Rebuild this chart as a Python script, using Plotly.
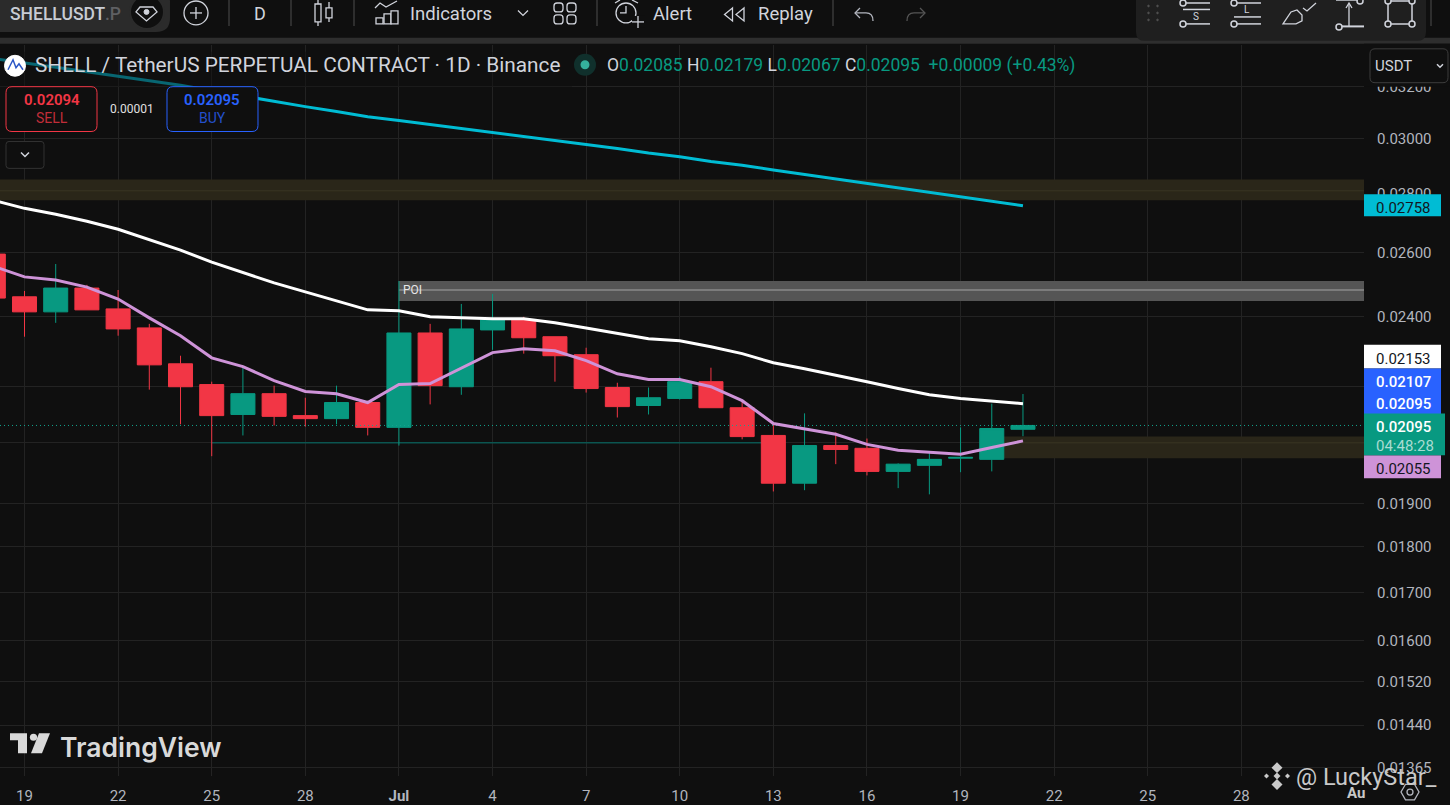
import math
import pandas as pd
import plotly.graph_objects as go

W, H = 1450, 805
BG = "#0f0f0f"
GRID = "#232323"
FONT = "Roboto"
UP = "#089981"
DOWN = "#F23645"
TXT = "#d1d4dc"

# daily candles, Jun 18 -> Jul 21
dates = pd.date_range("2025-06-18", periods=34, freq="D")
open_ = [0.02596, 0.02461, 0.02415, 0.02488, 0.02424, 0.02367, 0.02263, 0.02205, 0.02124, 0.02180, 0.02121, 0.02113,
         0.02156, 0.02090, 0.02352, 0.02199, 0.02361, 0.02391, 0.02341, 0.02289, 0.02197, 0.02148, 0.02167, 0.02213,
         0.02142, 0.02069, 0.01949, 0.02043, 0.02036, 0.01978, 0.01993, 0.02011, 0.02008, 0.02085]
high = [0.02596, 0.02479, 0.02564, 0.02498, 0.02482, 0.02379, 0.02286, 0.02213, 0.02255, 0.02202, 0.02169, 0.02202,
        0.02161, 0.02510, 0.02379, 0.02439, 0.02470, 0.02400, 0.02341, 0.02309, 0.02210, 0.02197, 0.02227, 0.02252,
        0.02161, 0.02100, 0.02127, 0.02077, 0.02061, 0.01998, 0.02028, 0.02090, 0.02153, 0.02179]
low = [0.02457, 0.02341, 0.02382, 0.02421, 0.02344, 0.02191, 0.02098, 0.02016, 0.02069, 0.02095, 0.02092, 0.02098,
       0.02069, 0.02043, 0.02151, 0.02177, 0.02303, 0.02292, 0.02213, 0.02183, 0.02116, 0.02124, 0.02164, 0.02142,
       0.02059, 0.01929, 0.01932, 0.01996, 0.01968, 0.01937, 0.01922, 0.01976, 0.01978, 0.02067]
close = [0.02457, 0.02415, 0.02488, 0.02421, 0.02364, 0.02260, 0.02199, 0.02121, 0.02180, 0.02119, 0.02113, 0.02156,
         0.02090, 0.02352, 0.02202, 0.02364, 0.02391, 0.02338, 0.02286, 0.02194, 0.02145, 0.02169, 0.02213, 0.02142,
         0.02066, 0.01949, 0.02043, 0.02033, 0.01978, 0.01996, 0.02008, 0.02013, 0.02087, 0.02095]

ma_white = [0.02777, 0.02749, 0.02729, 0.02705, 0.02678, 0.02642, 0.02609, 0.02570, 0.02538, 0.02504, 0.02476, 0.02448,
            0.02421, 0.02418, 0.02400, 0.02397, 0.02394, 0.02394, 0.02382, 0.02367, 0.02350, 0.02335, 0.02329, 0.02312,
            0.02292, 0.02266, 0.02249, 0.02232, 0.02213, 0.02194, 0.02177, 0.02167, 0.02159, 0.02153]
ma_purple = [0.02557, 0.02523, 0.02513, 0.02491, 0.02454, 0.02397, 0.02344, 0.02280, 0.02255, 0.02216, 0.02186, 0.02180,
             0.02156, 0.02205, 0.02208, 0.02252, 0.02295, 0.02306, 0.02300, 0.02272, 0.02235, 0.02219, 0.02219, 0.02199,
             0.02161, 0.02100, 0.02085, 0.02072, 0.02046, 0.02031, 0.02026, 0.02021, 0.02038, 0.02055]
ma_cyan = [0.03315, 0.03298, 0.03280, 0.03261, 0.03243, 0.03225, 0.03207, 0.03185, 0.03163, 0.03142, 0.03122, 0.03103,
           0.03083, 0.03068, 0.03053, 0.03038, 0.03023, 0.03008, 0.02993, 0.02978, 0.02963, 0.02946, 0.02932, 0.02915,
           0.02901, 0.02884, 0.02868, 0.02852, 0.02836, 0.02820, 0.02805, 0.02787, 0.02773, 0.02758]

last_price = 0.02095
price_ticks = [0.032, 0.03, 0.028, 0.026, 0.024, 0.022, 0.0205, 0.019, 0.018, 0.017, 0.016, 0.0152, 0.0144, 0.01365]
price_labels = ["0.03200", "0.03000", "0.02800", "0.02600", "0.02400", "", "", "0.01900", "0.01800", "0.01700",
                "0.01600", "0.01520", "0.01440", "0.01365"]
date_ticks = ["2025-06-19", "2025-06-22", "2025-06-25", "2025-06-28", "2025-07-01", "2025-07-04", "2025-07-07",
              "2025-07-10", "2025-07-13", "2025-07-16", "2025-07-19", "2025-07-22", "2025-07-25", "2025-07-28"]
date_labels = ["19", "22", "25", "28", "<b>Jul</b>", "4", "7", "10", "13", "16", "19", "22", "25", "28"]

shapes = []
notes = []


# ---- small drawing helpers, all in screen pixels ----
def fx(x):
    return x / W


def fy(y):
    return 1 - y / H


def poly(pts, closed=False):
    d = "M" + " L".join(f"{fx(x):.5f},{fy(y):.5f}" for x, y in pts)
    return d + (" Z" if closed else "")


def rr_path(x0, y0, x1, y1, r):
    def p(x, y):
        return f"{fx(x):.5f},{fy(y):.5f}"
    return (f"M{p(x0 + r, y0)} L{p(x1 - r, y0)} Q{p(x1, y0)} {p(x1, y0 + r)} L{p(x1, y1 - r)} "
            f"Q{p(x1, y1)} {p(x1 - r, y1)} L{p(x0 + r, y1)} Q{p(x0, y1)} {p(x0, y1 - r)} "
            f"L{p(x0, y0 + r)} Q{p(x0, y0)} {p(x0 + r, y0)} Z")


def path(d, color=TXT, w=1.5, fill=None):
    shapes.append(dict(type="path", path=d, xref="paper", yref="paper", layer="above",
                       line=dict(color=color, width=w), fillcolor=fill))


def line(pts, color=TXT, w=1.5):
    path(poly(pts), color, w)


def box(x0, y0, x1, y1, fill, r=0, color=None, w=1):
    if r:
        path(rr_path(x0, y0, x1, y1, r), color or fill, w if color else 0, fill)
    else:
        shapes.append(dict(type="rect", xref="paper", yref="paper", layer="above", x0=fx(x0), x1=fx(x1),
                           y0=fy(y0), y1=fy(y1), fillcolor=fill, line=dict(width=w if color else 0, color=color)))


def circle(cx, cy, r, color=TXT, w=1.5, fill=None):
    shapes.append(dict(type="circle", xref="paper", yref="paper", layer="above", x0=fx(cx - r), x1=fx(cx + r),
                       y0=fy(cy - r), y1=fy(cy + r), fillcolor=fill, line=dict(color=color, width=w)))


def label(x, y, s, size=15, color=TXT, anchor="left", font=FONT, weight=None):
    f = dict(family=font, size=size, color=color)
    if weight:
        f["weight"] = weight
    notes.append(dict(xref="paper", yref="paper", x=fx(x), y=fy(y), text=s, showarrow=False, xanchor=anchor,
                      yanchor="middle", font=f, borderpad=0, borderwidth=0))


def chevron(cx, cy, s=4, color=TXT, w=1.5):
    line([(cx - s, cy - s / 2), (cx, cy + s / 2), (cx + s, cy - s / 2)], color, w)


x_start = "2025-06-18 05:09"
x_end = "2025-07-31 22:19"
y_top, y_bottom = 0.03373, 0.01351

# ---- figure ----
fig = go.Figure()
fig.add_trace(go.Scatter(x=[x_start, x_end], y=[last_price, last_price], mode="lines",
                         line=dict(color="#12a48e", width=1, dash="1px,3px"), hoverinfo="skip", showlegend=False))
for vals, col in [(ma_cyan, "#00BCD4"), (ma_white, "#FFFFFF"), (ma_purple, "#CE93D8")]:
    fig.add_trace(go.Scatter(x=dates, y=vals, mode="lines", line=dict(color=col, width=3),
                             hoverinfo="skip", showlegend=False))
fig.add_trace(go.Candlestick(
    x=dates, open=open_, high=high, low=low, close=close, whiskerwidth=0, showlegend=False,
    increasing=dict(line=dict(color=UP, width=1), fillcolor=UP),
    decreasing=dict(line=dict(color=DOWN, width=1), fillcolor=DOWN),
))

# zones drawn on the price axis
zone = "#2a2619"
for x0, y0, y1 in [(x_start, 0.02777, 0.02850), ("2025-07-20", 0.02011, 0.02066)]:
    shapes.append(dict(type="rect", xref="x", yref="y", x0=x0, x1=x_end, y0=y0, y1=y1, layer="between",
                       fillcolor=zone, line=dict(width=0)))
shapes.append(dict(type="line", xref="x", yref="y", x0=x_start, x1=x_end, y0=0.0281, y1=0.0281, layer="between",
                   line=dict(color="#3a3523", width=1)))
shapes.append(dict(type="line", xref="x", yref="y", x0="2025-07-20", x1=x_end, y0=0.0205, y1=0.0205, layer="between",
                   line=dict(color="#3a3523", width=1)))
shapes.append(dict(type="rect", xref="x", yref="y", x0="2025-07-01", x1=x_end, y0=0.02448, y1=0.02510,
                   layer="between", fillcolor="#555555", line=dict(width=0)))
shapes.append(dict(type="line", xref="x", yref="y", x0="2025-07-01", x1=x_end, y0=0.02482, y1=0.02482,
                   layer="between", line=dict(color="#8a8a8a", width=1.5)))
shapes.append(dict(type="line", xref="x", yref="y", x0="2025-06-25", x1="2025-07-13", y0=0.0205, y1=0.0205,
                   layer="between", line=dict(color="#0b5550", width=1.5)))
label(403, 291, "POI", 12, "#e6e6e6")

# top bar
box(0, 38, W, 44, "#2e2e2e")
box(1364, 44, W, 87, BG)
box(-20, -12, 170, 32, "#2b2b2b", r=14)
label(10, 14, "SHELLUSDT", 17.5, "#c8ccd4", weight=500)
label(105, 14, ".P", 17.5, "#5f6063", weight=500)
circle(147, 12, 17, "#2b2b2b", 2, "#0f0f0f")
path(poly([(140, 7), (153, 7), (157, 12), (146.5, 21), (136, 12)], True), TXT, 1.3)
circle(146.5, 12, 2.5, TXT, 1, TXT)
circle(196, 13, 12, TXT, 1.3)
line([(190, 13), (202, 13)], TXT, 1.3)
line([(196, 7), (196, 19)], TXT, 1.3)
label(260, 14, "D", 18, TXT, "center")
for sx in [229, 291, 354, 597, 833]:
    line([(sx, 0), (sx, 26)], "#3a3a3a", 1.5)
box(315, 4, 321, 22, BG, color=TXT, w=1.3)
line([(318, 0), (318, 4)], TXT, 1.3)
line([(318, 22), (318, 26)], TXT, 1.3)
box(326, 8, 332, 18, BG, color=TXT, w=1.3)
line([(329, 2), (329, 8)], TXT, 1.3)
line([(329, 18), (329, 22)], TXT, 1.3)
line([(375, 8), (380, 3), (386, 7), (397, 1)], TXT, 1.3)
for bx, by in [(376, 18), (384, 14), (391, 11)]:
    box(bx, by, bx + 7, 24, BG, color=TXT, w=1.3)
label(410, 14, "Indicators", 18.5, TXT)
chevron(523, 13, 5, TXT, 1.3)
for gx in [554, 567]:
    for gy in [3, 15]:
        box(gx, gy, gx + 9, gy + 9, BG, r=3, color=TXT, w=1.3)
circle(626, 13, 10, TXT, 1.3)
line([(626, 6), (626, 13), (620, 13)], TXT, 1.3)
line([(615, 3), (620, 0)], TXT, 1.3)
line([(632, 0), (638, 3)], TXT, 1.3)
box(632, 16, 645, 28, BG)
line([(632, 22), (644, 22)], TXT, 1.3)
line([(638, 16), (638, 28)], TXT, 1.3)
label(653, 14, "Alert", 18.5, TXT)
path(poly([(732.5, 8), (724.5, 14.5), (732.5, 21)], True), TXT, 1.3)
path(poly([(744, 8), (736, 14.5), (744, 21)], True), TXT, 1.3)
label(758, 14, "Replay", 18.5, TXT)
line([(860, 8), (855, 13), (860, 18)], "#b2b5be", 1.3)
path(f"M{fx(855)},{fy(13)} L{fx(866)},{fy(13)} Q{fx(873)},{fy(13)} {fx(873)},{fy(21)}", "#b2b5be", 1.3)
line([(920, 8), (925, 13), (920, 18)], "#555555", 1.3)
path(f"M{fx(925)},{fy(13)} L{fx(914)},{fy(13)} Q{fx(907)},{fy(13)} {fx(907)},{fy(21)}", "#555555", 1.3)

# drawing tools panel
box(1136, -12, 1426, 41, "#1f1f1f", r=9)
for dx in [1148.5, 1157.5]:
    for dy in [6, 13, 20]:
        circle(dx, dy, 0.8, "#555555", 1, "#555555")
line([(1186, 3), (1210, 3)])
circle(1183, 3, 3)
line([(1183, 9.5), (1210, 9.5)])
label(1196, 17, "S", 10, TXT, "center")
circle(1183, 24, 3)
line([(1186, 24), (1210, 24)])
circle(1234, 3, 3)
line([(1237, 3), (1261, 3)])
label(1247, 10, "L", 10, TXT, "center")
line([(1234, 17), (1261, 17)])
circle(1234, 24, 3)
line([(1237, 24), (1261, 24)])
path(poly([(1283, 24), (1291, 12), (1297, 10), (1302, 15), (1302, 21), (1296, 24)], True), TXT, 1.3)
line([(1303, 8), (1307, 11), (1316, 3)], TXT, 1.3)
line([(1336, 0), (1358, 0)])
circle(1360, 1, 3)
line([(1349, 26), (1349, 4)], TXT, 1.3)
line([(1346, 8), (1349, 3), (1352, 8)], TXT, 1.3)
line([(1342, 26.5), (1364, 26.5)], TXT, 2)
circle(1339, 27, 3)
box(1388, 1, 1412, 24, "rgba(0,0,0,0)", color=TXT, w=1.5)
for sx_, sy_ in [(1388, 1), (1412, 1), (1388, 24), (1412, 24)]:
    circle(sx_, sy_, 3, TXT, 1.5, "#1f1f1f")
line([(1431, 0), (1431, 26)], "#3a3a3a", 1.5)

# legend header
box(0, 52, 572, 87, "rgba(15,15,15,0.5)")
circle(15, 66, 10.5, "#ffffff", 1, "#ffffff")
path(poly([(8, 70), (13, 60), (16, 68), (19, 64), (23, 70)]), "#2a56c6", 1.5)
label(35, 65.5, "SHELL / TetherUS PERPETUAL CONTRACT · 1D · Binance", 20.8, TXT)
circle(585, 65, 11, "#10302c", 0, "#10302c")
circle(585, 65, 4.5, "#35b09c", 0, "#35b09c")
g = f'<span style="color:{UP}">'
w_ = f'<span style="color:{TXT}">'
label(607, 65.5,
      f"{w_}O</span>{g}0.02085</span> {w_}H</span>{g}0.02179</span> {w_}L</span>{g}0.02067</span> "
      f"{w_}C</span>{g}0.02095  +0.00009 (+0.43%)</span>", 17.5)

# sell / buy
box(6, 87, 97, 132, BG, r=6, color=DOWN)
label(51.5, 100, "0.02094", 15, DOWN, "center", weight=600)
label(51.5, 118, "SELL", 14, "#c12d39", "center")
label(132, 109, "0.00001", 12, "#e0e0e0", "center")
box(167, 87, 258, 132, BG, r=6, color="#2962FF")
label(212.5, 100, "0.02095", 15, "#2962FF", "center", weight=600)
label(212.5, 118, "BUY", 14, "#2450cc", "center")
box(6, 142, 44, 169, BG, r=3, color="#333333")
chevron(25, 155, 4, TXT, 1.5)

box(1370, 49, 1448, 83, BG, r=5, color="#3d3d3d")
label(1375, 66, "USDT", 15, TXT)
chevron(1440, 66, 3, TXT, 1.5)

# price tags
box(1364, 195, 1441, 217, "#00BCD4")
label(1403, 209, "0.02758", 15, "#131722", "center")
box(1364, 346, 1441, 370, "#ffffff")
label(1403, 360, "0.02153", 15, "#131722", "center")
box(1364, 370, 1441, 416, "#2962FF")
label(1403, 383, "0.02107", 15, "#ffffff", "center", weight=500)
label(1403, 406, "0.02095", 15, "#ffffff", "center", weight=500)
box(1364, 457, 1441, 480, "#CE93D8")
label(1403, 471, "0.02055", 15, "#131722", "center")
box(1364, 415, 1445, 457, UP)
label(1403, 429, "0.02095", 15, "#ffffff", "center", weight=500)
label(1405, 448, "04:48:28", 15, "#a9dcd2", "center")

# watermarks
mark = "#d9d9d9"
path(poly([(10, 736), (27, 736), (27, 756), (18, 756), (18, 743), (10, 743)], True), mark, 0, mark)
circle(33.5, 740, 3.6, mark, 0, mark)
path(poly([(39, 736), (50, 736), (42, 756), (31, 756)], True), mark, 0, mark)
label(60, 750, "TradingView", 26.5, mark, font="Inter", weight=600)

wm = "#c9c9c9"
for cx, cy, s in [(1277, 770.5, 5.5), (1266.5, 779, 2.5), (1287.5, 779, 2.5), (1277, 787.5, 5.5), (1277, 779, 3.5)]:
    path(poly([(cx - s, cy), (cx, cy - s), (cx + s, cy), (cx, cy + s)], True), wm, 0, wm)
label(1296, 780, "@ LuckyStar_", 23.5, wm)
label(1365, 796, "<b>Au</b>", 15, "#c8c8c8", "right")
hx, hy, hr = 1410, 795, 9
path(poly([(hx + hr * math.cos(math.radians(a)), hy + hr * math.sin(math.radians(a))) for a in range(0, 360, 60)], True),
     "#b2b5be", 1.3)
circle(hx, hy, 3, "#b2b5be", 1.3)

fig.update_layout(
    width=W, height=H, autosize=False,
    margin=dict(l=0, r=0, t=0, b=0),
    paper_bgcolor=BG, plot_bgcolor=BG,
    hovermode=False, showlegend=False,
    boxmode="group", boxgap=0.23, boxgroupgap=0,
    font=dict(family=FONT, color="#b2b5be", size=15),
    shapes=shapes, annotations=notes,
    xaxis=dict(type="date", range=[x_start, x_end], domain=[0, 1364 / W], tickmode="array",
               tickvals=date_ticks, ticktext=date_labels, showgrid=True, gridcolor=GRID, gridwidth=1,
               zeroline=False, showline=False, ticks="outside", ticklen=6, tickcolor=BG,
               rangeslider=dict(visible=False), tickfont=dict(size=15, color="#b2b5be")),
    yaxis=dict(type="log", side="right", range=[math.log10(y_bottom), math.log10(y_top)],
               domain=[1 - 779 / H, 1 - 45 / H], tickmode="array", tickvals=price_ticks, ticktext=price_labels,
               showgrid=True, gridcolor=GRID, gridwidth=1, zeroline=False, showline=False, ticks="outside",
               ticklen=9, tickcolor=BG, tickfont=dict(size=15, color="#b2b5be")),
)

fig.write_html("out.html", config={"displayModeBar": False},
               post_script="document.body.style.margin='0';document.body.style.overflow='hidden';")
